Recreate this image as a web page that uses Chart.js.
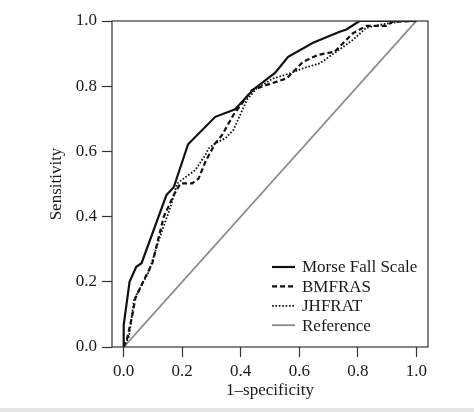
<!DOCTYPE html>
<html>
<head>
<meta charset="utf-8">
<script src="https://cdn.jsdelivr.net/npm/chart.js@4.4.1/dist/chart.umd.min.js"></script>
<style>
  html, body { margin: 0; padding: 0; background: #fff; }
  #wrap { position: relative; width: 474px; height: 412px; overflow: hidden; }
  #band { position: absolute; left: 0; right: 0; bottom: 0; height: 4px; background: #e4e4e4; }
</style>
</head>
<body>
<div id="wrap">
  <canvas id="roc" width="474" height="412"></canvas>
  <div id="band"></div>
</div>
<script>
// ── Data ────────────────────────────────────────────────────────────────────
const X_TICKS = [0, 0.2, 0.4, 0.6, 0.8, 1.0];
const Y_TICKS = [0, 0.2, 0.4, 0.6, 0.8, 1.0];

const MORSE_X = [0, 0, 0.02, 0.043, 0.061, 0.146, 0.171, 0.22, 0.313, 0.381, 0.443, 0.517, 0.562, 0.647, 0.738, 0.761, 0.806, 1.0];
const MORSE_Y = [0, 0.067, 0.2, 0.246, 0.257, 0.466, 0.49, 0.622, 0.706, 0.729, 0.79, 0.841, 0.89, 0.933, 0.967, 0.974, 1.0, 1.0];

const BMFRAS_X = [0, 0.012, 0.03, 0.04, 0.075, 0.098, 0.12, 0.137, 0.171, 0.194, 0.234, 0.256, 0.28, 0.313, 0.336, 0.375, 0.438, 0.489, 0.557, 0.613, 0.664, 0.721, 0.783, 0.829, 0.897, 0.92, 1.0];
const BMFRAS_Y = [0, 0.027, 0.1, 0.15, 0.216, 0.257, 0.338, 0.40, 0.466, 0.502, 0.502, 0.517, 0.57, 0.625, 0.65, 0.712, 0.788, 0.804, 0.824, 0.875, 0.896, 0.906, 0.962, 0.985, 0.985, 0.998, 1.0];

const JHFRAT_X = [0, 0.018, 0.035, 0.052, 0.086, 0.12, 0.16, 0.183, 0.245, 0.279, 0.29, 0.313, 0.347, 0.375, 0.421, 0.455, 0.511, 0.568, 0.613, 0.67, 0.727, 0.783, 0.829, 0.874, 0.92, 0.965, 1.0];
const JHFRAT_Y = [0, 0.032, 0.144, 0.175, 0.231, 0.328, 0.43, 0.502, 0.543, 0.589, 0.609, 0.625, 0.64, 0.666, 0.758, 0.794, 0.824, 0.839, 0.855, 0.87, 0.906, 0.942, 0.979, 0.988, 0.995, 1.0, 1.0];

const REF_X = [0, 1];
const REF_Y = [0, 1];

const SERIES_NAMES = ['Morse Fall Scale', 'BMFRAS', 'JHFRAT', 'Reference'];

// ── Helpers ──────────────────────────────────────────────────────────────────
const FONT = "'Liberation Serif', 'DejaVu Serif', serif";
const INK  = '#1a1a1a';

const toPoints = (xs, ys) => xs.map((x, i) => ({ x, y: ys[i] }));

function lineSet(label, xs, ys, color, width, dash) {
  return {
    label,
    data:        toPoints(xs, ys),
    showLine:    true,
    borderColor: color,
    borderWidth: width,
    borderDash:  dash,
    pointRadius: 0,
    fill:        false,
    tension:     0,
  };
}

// Frame round the plot area (R style box)
const boxPlugin = {
  id: 'box',
  afterDatasetsDraw(chart) {
    const { ctx, chartArea: a } = chart;
    ctx.save();
    ctx.strokeStyle = '#333';
    ctx.lineWidth = 1.2;
    ctx.strokeRect(a.left, a.top, a.right - a.left, a.bottom - a.top);
    ctx.restore();
  },
};

// Legend inside the plot, lower right, drawn from the datasets
const insetLegend = {
  id: 'insetLegend',
  afterDraw(chart) {
    const { ctx } = chart;
    const x0 = 272, len = 23, textX = 302, y0 = 267, step = 19.4;
    ctx.save();
    ctx.font = `17px ${FONT}`;
    ctx.textBaseline = 'middle';
    ctx.fillStyle = INK;
    chart.data.datasets.forEach((ds, i) => {
      const y = y0 + i * step;
      ctx.beginPath();
      ctx.strokeStyle = ds.borderColor;
      ctx.lineWidth = ds.borderWidth;
      ctx.setLineDash(ds.borderDash || []);
      ctx.moveTo(x0, y);
      ctx.lineTo(x0 + len, y);
      ctx.stroke();
      ctx.fillText(ds.label, textX, y + 1);
    });
    ctx.restore();
  },
};

// ── Chart ────────────────────────────────────────────────────────────────────
Chart.defaults.font.family = FONT;
Chart.defaults.font.size   = 17;
Chart.defaults.color       = INK;

new Chart(document.getElementById('roc').getContext('2d'), {
  type: 'scatter',
  data: {
    datasets: [
      lineSet(SERIES_NAMES[0], MORSE_X,  MORSE_Y,  '#111', 2.2, []),
      lineSet(SERIES_NAMES[1], BMFRAS_X, BMFRAS_Y, '#111', 2.2, [5, 3]),
      lineSet(SERIES_NAMES[2], JHFRAT_X, JHFRAT_Y, '#111', 1.8, [1.6, 1.8]),
      lineSet(SERIES_NAMES[3], REF_X,    REF_Y,    '#8a8a8a', 1.8, []),
    ],
  },
  options: {
    responsive: false,
    animation:  false,
    devicePixelRatio: 1,
    layout: { padding: { top: 21, right: 46, left: 0, bottom: 0 } },
    plugins: {
      legend:  { display: false },
      tooltip: { enabled: false },
    },
    scales: {
      x: {
        type: 'linear',
        min: -0.04,
        max: 1.04,
        afterBuildTicks(scale) { scale.ticks = X_TICKS.map(v => ({ value: v })); },
        afterFit(scale) { scale.height = 65; },
        ticks: {
          padding: 4,
          maxRotation: 0,
          callback: v => Number(v).toFixed(1),
        },
        grid: {
          drawOnChartArea: false,
          drawTicks: true,
          tickLength: 10,
          tickColor: '#333',
          tickWidth: 1.2,
        },
        border: { display: false },
        title: {
          display: true,
          text: '1–specificity',
          padding: { top: 0, bottom: 11 },
        },
      },
      y: {
        type: 'linear',
        min: 0,
        max: 1,
        afterBuildTicks(scale) { scale.ticks = Y_TICKS.map(v => ({ value: v })); },
        afterFit(scale) { scale.width = 112; },
        ticks: {
          padding: 5,
          callback: v => Number(v).toFixed(1),
        },
        grid: {
          drawOnChartArea: false,
          drawTicks: true,
          tickLength: 10,
          tickColor: '#333',
          tickWidth: 1.2,
        },
        border: { display: false },
        title: {
          display: true,
          text: 'Sensitivity',
          padding: { top: 46, bottom: 0 },
        },
      },
    },
  },
  plugins: [boxPlugin, insetLegend],
});
</script>
</body>
</html>
